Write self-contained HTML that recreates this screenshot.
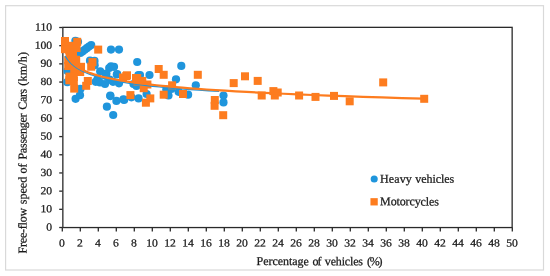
<!DOCTYPE html>
<html><head><meta charset="utf-8"><title>Chart</title>
<style>html,body{margin:0;padding:0;background:#fff;}body{width:550px;height:276px;position:relative;overflow:hidden;}</style></head>
<body>
<svg width="550" height="276" viewBox="0 0 550 276" style="position:absolute;left:0;top:0">
<rect x="5.6" y="5.7" width="537.9" height="264.3" fill="#fff" stroke="#d9d9d9" stroke-width="1.2"/>
<g stroke="#2a2a2a" stroke-width="1.3" fill="none">
<rect x="62.85" y="27.35" width="449.3" height="200.2"/>
<line x1="62.3" y1="227.5" x2="62.3" y2="231.4"/>
<line x1="80.3" y1="227.5" x2="80.3" y2="231.4"/>
<line x1="98.3" y1="227.5" x2="98.3" y2="231.4"/>
<line x1="116.3" y1="227.5" x2="116.3" y2="231.4"/>
<line x1="134.3" y1="227.5" x2="134.3" y2="231.4"/>
<line x1="152.3" y1="227.5" x2="152.3" y2="231.4"/>
<line x1="170.3" y1="227.5" x2="170.3" y2="231.4"/>
<line x1="188.3" y1="227.5" x2="188.3" y2="231.4"/>
<line x1="206.3" y1="227.5" x2="206.3" y2="231.4"/>
<line x1="224.3" y1="227.5" x2="224.3" y2="231.4"/>
<line x1="242.3" y1="227.5" x2="242.3" y2="231.4"/>
<line x1="260.3" y1="227.5" x2="260.3" y2="231.4"/>
<line x1="278.3" y1="227.5" x2="278.3" y2="231.4"/>
<line x1="296.3" y1="227.5" x2="296.3" y2="231.4"/>
<line x1="314.3" y1="227.5" x2="314.3" y2="231.4"/>
<line x1="332.3" y1="227.5" x2="332.3" y2="231.4"/>
<line x1="350.3" y1="227.5" x2="350.3" y2="231.4"/>
<line x1="368.3" y1="227.5" x2="368.3" y2="231.4"/>
<line x1="386.3" y1="227.5" x2="386.3" y2="231.4"/>
<line x1="404.3" y1="227.5" x2="404.3" y2="231.4"/>
<line x1="422.3" y1="227.5" x2="422.3" y2="231.4"/>
<line x1="440.3" y1="227.5" x2="440.3" y2="231.4"/>
<line x1="458.3" y1="227.5" x2="458.3" y2="231.4"/>
<line x1="476.3" y1="227.5" x2="476.3" y2="231.4"/>
<line x1="494.3" y1="227.5" x2="494.3" y2="231.4"/>
<line x1="512.3" y1="227.5" x2="512.3" y2="231.4"/>
<line x1="59.2" y1="227.50" x2="62.5" y2="227.50"/>
<line x1="59.2" y1="209.32" x2="62.5" y2="209.32"/>
<line x1="59.2" y1="191.14" x2="62.5" y2="191.14"/>
<line x1="59.2" y1="172.95" x2="62.5" y2="172.95"/>
<line x1="59.2" y1="154.77" x2="62.5" y2="154.77"/>
<line x1="59.2" y1="136.59" x2="62.5" y2="136.59"/>
<line x1="59.2" y1="118.41" x2="62.5" y2="118.41"/>
<line x1="59.2" y1="100.23" x2="62.5" y2="100.23"/>
<line x1="59.2" y1="82.05" x2="62.5" y2="82.05"/>
<line x1="59.2" y1="63.86" x2="62.5" y2="63.86"/>
<line x1="59.2" y1="45.68" x2="62.5" y2="45.68"/>
<line x1="59.2" y1="27.50" x2="62.5" y2="27.50"/>
</g>
<g fill="#1f95dc">
<circle cx="75.4" cy="40.8" r="4.1"/>
<circle cx="78.0" cy="41.8" r="4.1"/>
<circle cx="91.2" cy="45.0" r="4.1"/>
<circle cx="89.0" cy="46.6" r="4.1"/>
<circle cx="86.8" cy="48.2" r="4.1"/>
<circle cx="84.7" cy="49.8" r="4.1"/>
<circle cx="82.5" cy="51.4" r="4.1"/>
<circle cx="80.3" cy="53.0" r="4.1"/>
<circle cx="111.0" cy="49.6" r="4.1"/>
<circle cx="119.0" cy="49.6" r="4.1"/>
<circle cx="90.0" cy="60.7" r="4.1"/>
<circle cx="94.5" cy="60.9" r="4.1"/>
<circle cx="94.6" cy="65.2" r="4.1"/>
<circle cx="111.0" cy="66.4" r="4.1"/>
<circle cx="109.2" cy="68.0" r="4.1"/>
<circle cx="114.0" cy="66.8" r="4.1"/>
<circle cx="137.2" cy="62.0" r="4.1"/>
<circle cx="100.2" cy="71.4" r="4.1"/>
<circle cx="106.4" cy="73.6" r="4.1"/>
<circle cx="97.6" cy="78.8" r="4.1"/>
<circle cx="109.6" cy="79.6" r="4.1"/>
<circle cx="117.2" cy="74.0" r="4.1"/>
<circle cx="138.4" cy="75.0" r="4.1"/>
<circle cx="106.0" cy="76.0" r="4.1"/>
<circle cx="116.8" cy="74.5" r="4.1"/>
<circle cx="95.7" cy="81.8" r="4.1"/>
<circle cx="100.0" cy="82.5" r="4.1"/>
<circle cx="105.0" cy="84.0" r="4.1"/>
<circle cx="119.0" cy="83.3" r="4.1"/>
<circle cx="113.0" cy="81.8" r="4.1"/>
<circle cx="133.5" cy="84.0" r="4.1"/>
<circle cx="110.3" cy="95.6" r="4.1"/>
<circle cx="123.4" cy="99.3" r="4.1"/>
<circle cx="67.5" cy="71.0" r="4.1"/>
<circle cx="67.3" cy="82.2" r="4.1"/>
<circle cx="75.6" cy="98.8" r="4.1"/>
<circle cx="80.0" cy="95.2" r="4.1"/>
<circle cx="80.4" cy="88.9" r="4.1"/>
<circle cx="110.3" cy="96.1" r="4.1"/>
<circle cx="116.4" cy="100.9" r="4.1"/>
<circle cx="124.1" cy="99.9" r="4.1"/>
<circle cx="131.4" cy="97.3" r="4.1"/>
<circle cx="106.9" cy="106.7" r="4.1"/>
<circle cx="113.2" cy="115.0" r="4.1"/>
<circle cx="140.0" cy="75.0" r="4.1"/>
<circle cx="149.5" cy="75.0" r="4.1"/>
<circle cx="181.3" cy="65.9" r="4.1"/>
<circle cx="176.0" cy="79.3" r="4.1"/>
<circle cx="195.8" cy="85.3" r="4.1"/>
<circle cx="166.3" cy="89.6" r="4.1"/>
<circle cx="171.4" cy="88.9" r="4.1"/>
<circle cx="178.6" cy="91.8" r="4.1"/>
<circle cx="188.1" cy="94.7" r="4.1"/>
<circle cx="168.5" cy="95.5" r="4.1"/>
<circle cx="146.6" cy="94.0" r="4.1"/>
<circle cx="138.6" cy="98.4" r="4.1"/>
<circle cx="136.5" cy="86.0" r="4.1"/>
<circle cx="223.5" cy="95.5" r="4.1"/>
<circle cx="223.5" cy="102.4" r="4.1"/>
</g>
<g fill="#fd7c1f">
<rect x="61.0" y="37.0" width="8.0" height="8.0"/>
<rect x="73.2" y="37.8" width="8.0" height="8.0"/>
<rect x="61.0" y="41.5" width="8.0" height="8.0"/>
<rect x="67.0" y="41.8" width="8.0" height="8.0"/>
<rect x="72.6" y="44.0" width="8.0" height="8.0"/>
<rect x="61.0" y="45.2" width="8.0" height="8.0"/>
<rect x="66.0" y="46.0" width="8.0" height="8.0"/>
<rect x="69.0" y="48.5" width="8.0" height="8.0"/>
<rect x="65.8" y="50.0" width="8.0" height="8.0"/>
<rect x="64.2" y="56.2" width="8.0" height="8.0"/>
<rect x="72.2" y="55.8" width="8.0" height="8.0"/>
<rect x="68.0" y="54.0" width="8.0" height="8.0"/>
<rect x="77.0" y="62.8" width="8.0" height="8.0"/>
<rect x="64.2" y="62.0" width="8.0" height="8.0"/>
<rect x="70.5" y="62.0" width="8.0" height="8.0"/>
<rect x="70.5" y="59.0" width="8.0" height="8.0"/>
<rect x="70.2" y="67.8" width="8.0" height="8.0"/>
<rect x="76.2" y="68.0" width="8.0" height="8.0"/>
<rect x="65.4" y="72.6" width="8.0" height="8.0"/>
<rect x="69.8" y="73.0" width="8.0" height="8.0"/>
<rect x="65.4" y="76.3" width="8.0" height="8.0"/>
<rect x="69.8" y="77.0" width="8.0" height="8.0"/>
<rect x="70.2" y="84.6" width="8.0" height="8.0"/>
<rect x="83.8" y="77.0" width="8.0" height="8.0"/>
<rect x="82.2" y="81.8" width="8.0" height="8.0"/>
<rect x="88.5" y="58.1" width="8.0" height="8.0"/>
<rect x="87.2" y="62.7" width="8.0" height="8.0"/>
<rect x="94.2" y="45.6" width="8.0" height="8.0"/>
<rect x="122.3" y="72.0" width="8.0" height="8.0"/>
<rect x="126.4" y="91.1" width="8.0" height="8.0"/>
<rect x="154.7" y="65.0" width="8.0" height="8.0"/>
<rect x="159.7" y="70.8" width="8.0" height="8.0"/>
<rect x="193.8" y="70.8" width="8.0" height="8.0"/>
<rect x="133.2" y="74.0" width="8.0" height="8.0"/>
<rect x="138.3" y="76.9" width="8.0" height="8.0"/>
<rect x="143.4" y="80.5" width="8.0" height="8.0"/>
<rect x="139.7" y="84.2" width="8.0" height="8.0"/>
<rect x="168.1" y="81.3" width="8.0" height="8.0"/>
<rect x="159.7" y="90.7" width="8.0" height="8.0"/>
<rect x="179.0" y="90.0" width="8.0" height="8.0"/>
<rect x="146.3" y="94.4" width="8.0" height="8.0"/>
<rect x="141.9" y="98.7" width="8.0" height="8.0"/>
<rect x="210.8" y="96.0" width="8.0" height="8.0"/>
<rect x="210.6" y="101.8" width="8.0" height="8.0"/>
<rect x="219.2" y="111.2" width="8.0" height="8.0"/>
<rect x="229.7" y="79.1" width="8.0" height="8.0"/>
<rect x="241.0" y="72.3" width="8.0" height="8.0"/>
<rect x="253.7" y="76.9" width="8.0" height="8.0"/>
<rect x="257.7" y="91.5" width="8.0" height="8.0"/>
<rect x="269.4" y="87.1" width="8.0" height="8.0"/>
<rect x="270.8" y="91.5" width="8.0" height="8.0"/>
<rect x="273.7" y="88.5" width="8.0" height="8.0"/>
<rect x="295.1" y="91.5" width="8.0" height="8.0"/>
<rect x="311.5" y="92.9" width="8.0" height="8.0"/>
<rect x="330.0" y="91.9" width="8.0" height="8.0"/>
<rect x="345.7" y="97.3" width="8.0" height="8.0"/>
<rect x="379.2" y="78.4" width="8.0" height="8.0"/>
<rect x="420.2" y="94.8" width="8.0" height="8.0"/>
<rect x="119.0" y="73.5" width="8.0" height="8.0"/>
<rect x="123.0" y="71.3" width="8.0" height="8.0"/>
<rect x="132.0" y="74.0" width="8.0" height="8.0"/>
<rect x="133.5" y="77.5" width="8.0" height="8.0"/>
</g>
<path d="M65.20,55.88 L65.39,56.20 L65.60,56.54 L65.82,56.90 L66.06,57.28 L66.31,57.68 L66.58,58.09 L66.87,58.52 L67.18,58.96 L67.52,59.42 L67.87,59.90 L68.26,60.39 L68.67,60.89 L69.10,61.41 L69.58,61.94 L70.08,62.48 L70.62,63.04 L71.20,63.61 L71.82,64.18 L72.48,64.77 L73.19,65.37 L73.95,65.98 L74.77,66.60 L75.64,67.22 L76.58,67.86 L77.58,68.50 L78.66,69.15 L79.81,69.80 L81.04,70.46 L82.36,71.13 L83.78,71.80 L85.29,72.48 L86.92,73.16 L88.65,73.84 L90.52,74.53 L92.51,75.22 L94.65,75.92 L96.94,76.61 L99.40,77.31 L102.02,78.01 L104.84,78.70 L107.85,79.40 L111.09,80.10 L114.55,80.79 L118.25,81.49 L122.23,82.18 L126.48,82.87 L131.04,83.55 L135.92,84.24 L141.15,84.91 L146.75,85.59 L152.75,86.26 L159.18,86.92 L166.07,87.58 L173.45,88.23 L181.35,88.87 L189.82,89.51 L198.89,90.14 L208.60,90.75 L219.01,91.37" fill="none" stroke="#1f95dc" stroke-width="1.3"/>
<path d="M65.20,49.87 L65.37,50.48 L65.55,51.09 L65.74,51.70 L65.95,52.31 L66.17,52.92 L66.40,53.53 L66.64,54.14 L66.91,54.75 L67.18,55.35 L67.48,55.96 L67.79,56.57 L68.13,57.18 L68.48,57.79 L68.86,58.40 L69.26,59.01 L69.69,59.62 L70.14,60.23 L70.62,60.84 L71.14,61.45 L71.68,62.06 L72.26,62.67 L72.88,63.28 L73.53,63.89 L74.23,64.50 L74.97,65.11 L75.75,65.72 L76.59,66.33 L77.48,66.94 L78.42,67.55 L79.43,68.16 L80.50,68.77 L81.63,69.38 L82.84,69.99 L84.12,70.60 L85.49,71.21 L86.94,71.82 L88.48,72.43 L90.12,73.04 L91.86,73.65 L93.72,74.26 L95.69,74.87 L97.78,75.47 L100.01,76.08 L102.37,76.69 L104.89,77.30 L107.56,77.91 L110.41,78.52 L113.43,79.13 L116.64,79.74 L120.06,80.35 L123.69,80.96 L127.55,81.57 L131.66,82.18 L136.02,82.79 L140.66,83.40 L145.60,84.01 L150.84,84.62 L156.41,85.23 L162.34,85.84 L168.64,86.45 L175.34,87.06 L182.46,87.67 L190.03,88.28 L198.08,88.89 L206.63,89.50 L215.73,90.11 L225.40,90.72 L235.67,91.33 L246.60,91.94 L258.22,92.55 L270.57,93.16 L283.70,93.77 L297.66,94.38 L312.50,94.99 L328.27,95.59 L345.04,96.20 L362.87,96.81 L381.83,97.42 L401.98,98.03 L423.40,98.64" fill="none" stroke="#fd7c1f" stroke-width="2.2"/>
<g font-family="'Liberation Serif', serif" fill="#1a1a1a" stroke="#1a1a1a" stroke-width="0.25">
<g font-size="10.9" text-anchor="end">
<text transform="translate(52.1,230.50) rotate(0.03) scale(1.07,1)">0</text>
<text transform="translate(52.1,212.32) rotate(0.03) scale(1.07,1)">10</text>
<text transform="translate(52.1,194.14) rotate(0.03) scale(1.07,1)">20</text>
<text transform="translate(52.1,175.95) rotate(0.03) scale(1.07,1)">30</text>
<text transform="translate(52.1,157.77) rotate(0.03) scale(1.07,1)">40</text>
<text transform="translate(52.1,139.59) rotate(0.03) scale(1.07,1)">50</text>
<text transform="translate(52.1,121.41) rotate(0.03) scale(1.07,1)">60</text>
<text transform="translate(52.1,103.23) rotate(0.03) scale(1.07,1)">70</text>
<text transform="translate(52.1,85.05) rotate(0.03) scale(1.07,1)">80</text>
<text transform="translate(52.1,66.86) rotate(0.03) scale(1.07,1)">90</text>
<text transform="translate(52.1,48.68) rotate(0.03) scale(1.07,1)">100</text>
<text transform="translate(52.1,30.50) rotate(0.03) scale(1.07,1)">110</text>
</g>
<g font-size="10.9" text-anchor="middle">
<text transform="translate(62.0,246.6) rotate(0.03) scale(1.07,1)">0</text>
<text transform="translate(80.0,246.6) rotate(0.03) scale(1.07,1)">2</text>
<text transform="translate(98.0,246.6) rotate(0.03) scale(1.07,1)">4</text>
<text transform="translate(116.0,246.6) rotate(0.03) scale(1.07,1)">6</text>
<text transform="translate(134.0,246.6) rotate(0.03) scale(1.07,1)">8</text>
<text transform="translate(152.0,246.6) rotate(0.03) scale(1.07,1)">10</text>
<text transform="translate(170.0,246.6) rotate(0.03) scale(1.07,1)">12</text>
<text transform="translate(188.0,246.6) rotate(0.03) scale(1.07,1)">14</text>
<text transform="translate(206.0,246.6) rotate(0.03) scale(1.07,1)">16</text>
<text transform="translate(224.0,246.6) rotate(0.03) scale(1.07,1)">18</text>
<text transform="translate(242.0,246.6) rotate(0.03) scale(1.07,1)">20</text>
<text transform="translate(260.0,246.6) rotate(0.03) scale(1.07,1)">22</text>
<text transform="translate(278.0,246.6) rotate(0.03) scale(1.07,1)">24</text>
<text transform="translate(296.0,246.6) rotate(0.03) scale(1.07,1)">26</text>
<text transform="translate(314.0,246.6) rotate(0.03) scale(1.07,1)">28</text>
<text transform="translate(332.0,246.6) rotate(0.03) scale(1.07,1)">30</text>
<text transform="translate(350.0,246.6) rotate(0.03) scale(1.07,1)">32</text>
<text transform="translate(368.0,246.6) rotate(0.03) scale(1.07,1)">34</text>
<text transform="translate(386.0,246.6) rotate(0.03) scale(1.07,1)">36</text>
<text transform="translate(404.0,246.6) rotate(0.03) scale(1.07,1)">38</text>
<text transform="translate(422.0,246.6) rotate(0.03) scale(1.07,1)">40</text>
<text transform="translate(440.0,246.6) rotate(0.03) scale(1.07,1)">42</text>
<text transform="translate(458.0,246.6) rotate(0.03) scale(1.07,1)">44</text>
<text transform="translate(476.0,246.6) rotate(0.03) scale(1.07,1)">46</text>
<text transform="translate(494.0,246.6) rotate(0.03) scale(1.07,1)">48</text>
<text transform="translate(512.0,246.6) rotate(0.03) scale(1.07,1)">50</text>
</g>
<g transform="translate(256.60,265.10) rotate(0.04)"><text y="0" font-size="12" lengthAdjust="spacingAndGlyphs"><tspan x="0.0" textLength="52.3">Percentage</tspan> <tspan x="56.0" textLength="9.0">of</tspan> <tspan x="68.2" textLength="38.2">vehicles</tspan> <tspan x="110.4" textLength="15.6">(%)</tspan></text></g>
<g transform="translate(26.40,253.50) rotate(-89.96)"><text y="0" font-size="12" lengthAdjust="spacingAndGlyphs"><tspan x="0.0" textLength="45.7">Free-flow</tspan> <tspan x="49.2" textLength="27.5">speed</tspan> <tspan x="80.0" textLength="9.9">of</tspan> <tspan x="93.9" textLength="46.2">Passenger</tspan> <tspan x="143.7" textLength="21.1">Cars</tspan> <tspan x="167.7" textLength="33.9">(km/h)</tspan></text></g>
<g transform="translate(380.10,182.70) rotate(0.04)"><text y="0" font-size="12" lengthAdjust="spacingAndGlyphs"><tspan x="0.0" textLength="31.6">Heavy</tspan> <tspan x="35.2" textLength="38.8">vehicles</tspan></text></g>
<g transform="translate(380.10,205.35) rotate(0.04)"><text y="0" font-size="12" lengthAdjust="spacingAndGlyphs"><tspan x="0.0" textLength="58.8">Motorcycles</tspan></text></g>
</g>
<circle cx="374.2" cy="179" r="3.55" fill="#1f95dc"/>
<rect x="370.45" y="198.15" width="7.3" height="7.3" fill="#fd7c1f"/>
</svg>
</body></html>
